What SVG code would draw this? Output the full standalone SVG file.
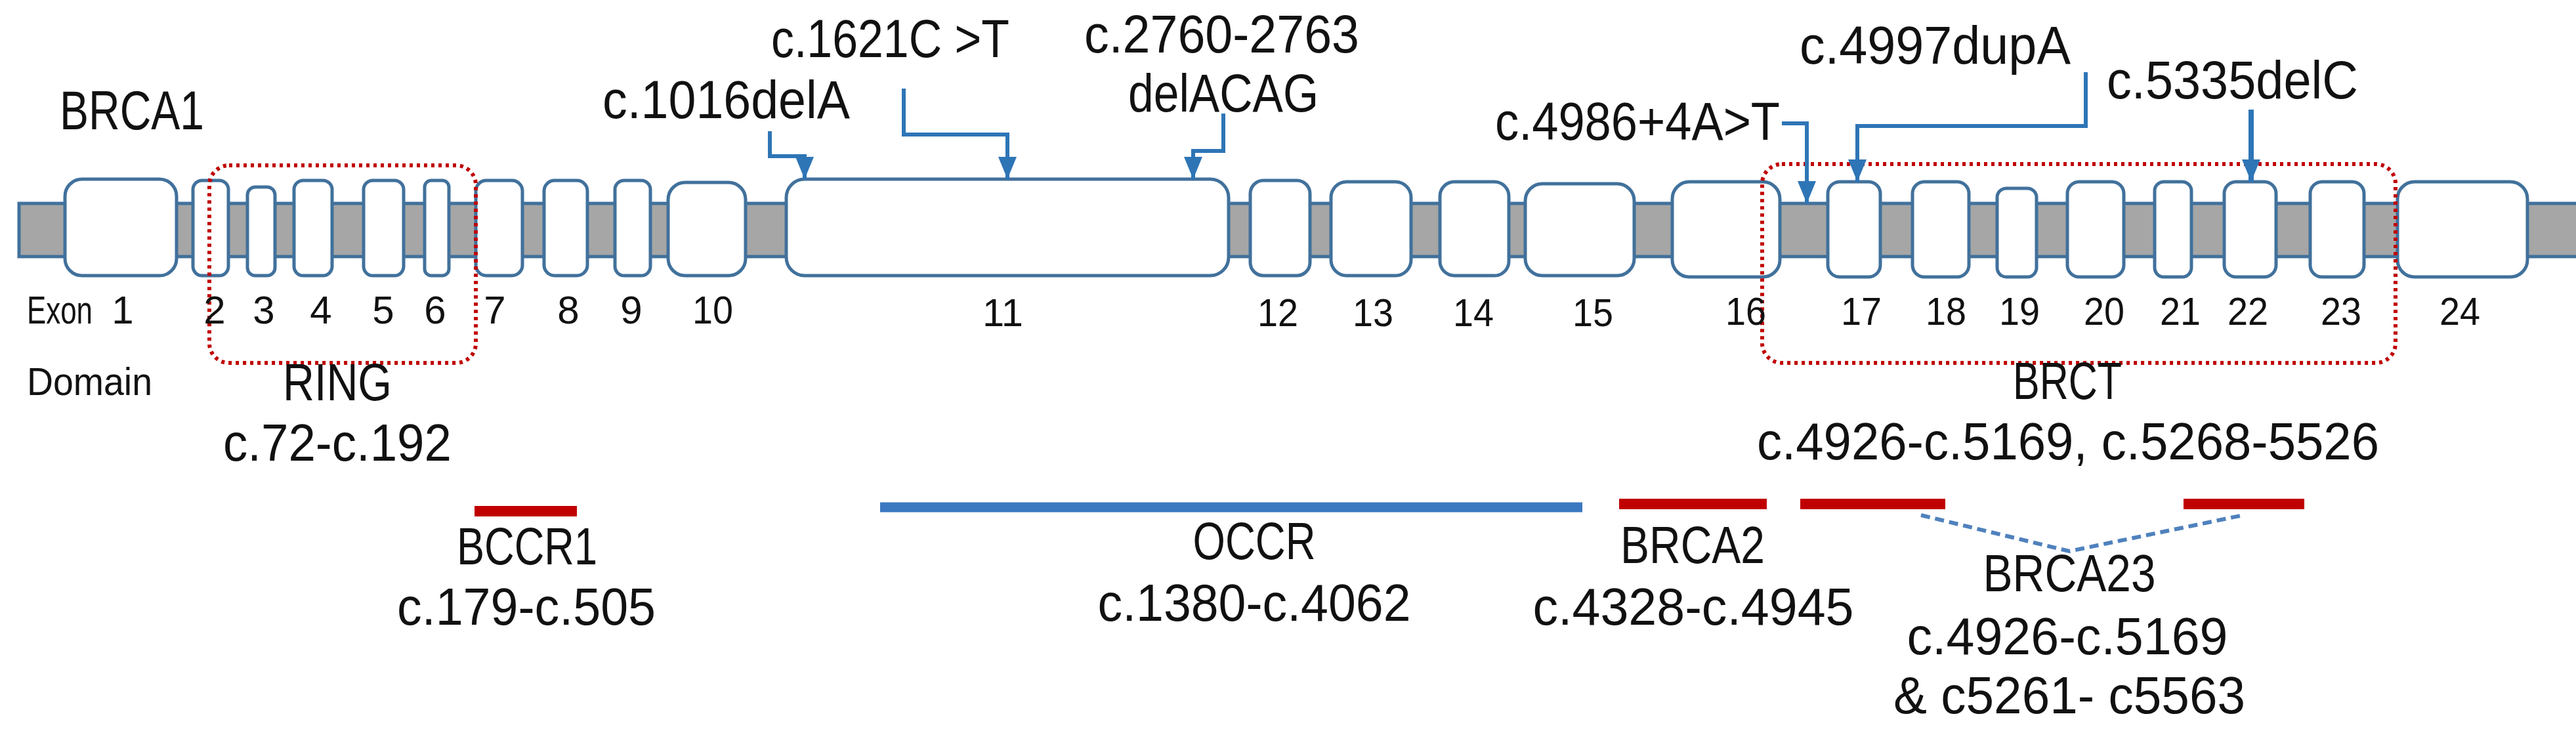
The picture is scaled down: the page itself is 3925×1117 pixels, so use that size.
<svg xmlns="http://www.w3.org/2000/svg" width="3925" height="1117" viewBox="0 0 3925 1117">
<style>
text{font-family:"Liberation Sans",Arial,sans-serif;fill:#111}
.mut{font-size:82px}
.ex{font-size:60px;text-anchor:middle}
.dom{font-size:80px;text-anchor:middle}
.exon{fill:#fff;stroke:#41719c;stroke-width:5}
.band{fill:#a6a6a6;stroke:#41719c;stroke-width:5}
.box{fill:none;stroke:#c00000;stroke-width:6;stroke-dasharray:5 6}
.arr{fill:none;stroke:#2e75b6;stroke-width:6;marker-end:url(#ah)}
.red{stroke:#c00000;stroke-width:16}
</style>
<defs>
<marker id="ah" markerUnits="userSpaceOnUse" markerWidth="34" markerHeight="34" refX="34" refY="14" orient="auto" viewBox="0 0 34 28">
<path d="M0,0 L34,14 L0,28 Z" fill="#2e75b6"/>
</marker>
</defs>
<rect width="3925" height="1117" fill="#fff"/>
<g id="gene">
<rect class="band" x="29" y="310" width="3900" height="81"/>
<rect class="exon" x="99" y="273" width="170" height="147" rx="26"/>
<rect class="exon" x="294" y="275" width="54" height="145" rx="14"/>
<rect class="exon" x="377" y="285" width="42" height="135" rx="12"/>
<rect class="exon" x="448" y="275" width="58" height="145" rx="14"/>
<rect class="exon" x="554" y="275" width="61" height="145" rx="14"/>
<rect class="exon" x="647" y="275" width="37" height="145" rx="10"/>
<rect class="exon" x="725" y="275" width="71" height="145" rx="16"/>
<rect class="exon" x="829" y="275" width="66" height="145" rx="16"/>
<rect class="exon" x="937" y="275" width="54" height="145" rx="14"/>
<rect class="exon" x="1018" y="278" width="118" height="142" rx="26"/>
<rect class="exon" x="1198" y="273" width="674" height="147" rx="28"/>
<rect class="exon" x="1905" y="275" width="91" height="145" rx="20"/>
<rect class="exon" x="2028" y="277" width="122" height="143" rx="24"/>
<rect class="exon" x="2194" y="277" width="105" height="143" rx="22"/>
<rect class="exon" x="2324" y="280" width="166" height="140" rx="26"/>
<rect class="exon" x="2548" y="277" width="164" height="145" rx="26"/>
<rect class="exon" x="2785" y="277" width="80" height="145" rx="18"/>
<rect class="exon" x="2914" y="277" width="86" height="145" rx="18"/>
<rect class="exon" x="3043" y="287" width="60" height="135" rx="14"/>
<rect class="exon" x="3150" y="277" width="86" height="145" rx="18"/>
<rect class="exon" x="3283" y="277" width="56" height="145" rx="14"/>
<rect class="exon" x="3389" y="277" width="79" height="145" rx="18"/>
<rect class="exon" x="3520" y="277" width="82" height="145" rx="18"/>
<rect class="exon" x="3653" y="277" width="198" height="145" rx="26"/>
</g>
<g id="domains">
<rect class="box" x="319" y="252" width="406" height="301" rx="30"/>
<rect class="box" x="2685" y="250" width="965" height="303" rx="30"/>
</g>
<g id="labels">
<text x="91" y="197" font-size="84" textLength="220" lengthAdjust="spacingAndGlyphs">BRCA1</text>
<text x="41" y="493" font-size="60" textLength="100" lengthAdjust="spacingAndGlyphs">Exon</text>
<text x="41" y="602" font-size="60" textLength="191" lengthAdjust="spacingAndGlyphs">Domain</text>
<text class="ex" x="187" y="493">1</text><text class="ex" x="327" y="493">2</text><text class="ex" x="402" y="493">3</text><text class="ex" x="489" y="493">4</text><text class="ex" x="584" y="493">5</text><text class="ex" x="663" y="493">6</text><text class="ex" x="754" y="493">7</text><text class="ex" x="866" y="493">8</text><text class="ex" x="962" y="493">9</text><text class="ex" x="1086" y="493" textLength="62" lengthAdjust="spacingAndGlyphs">10</text><text class="ex" x="1528" y="497" textLength="62" lengthAdjust="spacingAndGlyphs">11</text><text class="ex" x="1947" y="497" textLength="62" lengthAdjust="spacingAndGlyphs">12</text><text class="ex" x="2092" y="497" textLength="62" lengthAdjust="spacingAndGlyphs">13</text><text class="ex" x="2245" y="497" textLength="62" lengthAdjust="spacingAndGlyphs">14</text><text class="ex" x="2427" y="497" textLength="62" lengthAdjust="spacingAndGlyphs">15</text><text class="ex" x="2660" y="495" textLength="62" lengthAdjust="spacingAndGlyphs">16</text><text class="ex" x="2836" y="495" textLength="62" lengthAdjust="spacingAndGlyphs">17</text><text class="ex" x="2965" y="495" textLength="62" lengthAdjust="spacingAndGlyphs">18</text><text class="ex" x="3077" y="495" textLength="62" lengthAdjust="spacingAndGlyphs">19</text><text class="ex" x="3206" y="495" textLength="62" lengthAdjust="spacingAndGlyphs">20</text><text class="ex" x="3322" y="495" textLength="62" lengthAdjust="spacingAndGlyphs">21</text><text class="ex" x="3425" y="495" textLength="62" lengthAdjust="spacingAndGlyphs">22</text><text class="ex" x="3567" y="495" textLength="62" lengthAdjust="spacingAndGlyphs">23</text><text class="ex" x="3748" y="495" textLength="62" lengthAdjust="spacingAndGlyphs">24</text>
<text class="mut" x="918" y="180" textLength="377" lengthAdjust="spacingAndGlyphs">c.1016delA</text>
<text class="mut" x="1175" y="87" textLength="363" lengthAdjust="spacingAndGlyphs">c.1621C &gt;T</text>
<text class="mut" x="1652" y="80" textLength="419" lengthAdjust="spacingAndGlyphs">c.2760-2763</text>
<text class="mut" x="1719" y="170" textLength="290" lengthAdjust="spacingAndGlyphs">delACAG</text>
<text class="mut" x="2278" y="213" textLength="434" lengthAdjust="spacingAndGlyphs">c.4986+4A&gt;T</text>
<text class="mut" x="2742" y="97" textLength="413" lengthAdjust="spacingAndGlyphs">c.4997dupA</text>
<text class="mut" x="3210" y="150" textLength="383" lengthAdjust="spacingAndGlyphs">c.5335delC</text>
<text class="dom" x="514" y="610" textLength="166" lengthAdjust="spacingAndGlyphs">RING</text>
<text class="dom" x="514" y="702" textLength="348" lengthAdjust="spacingAndGlyphs">c.72-c.192</text>
<text class="dom" x="3150" y="608" textLength="166" lengthAdjust="spacingAndGlyphs">BRCT</text>
<text class="dom" x="3151" y="700" textLength="948" lengthAdjust="spacingAndGlyphs">c.4926-c.5169, c.5268-5526</text>
<text class="dom" x="803" y="860" textLength="214" lengthAdjust="spacingAndGlyphs">BCCR1</text>
<text class="dom" x="802" y="952" textLength="394" lengthAdjust="spacingAndGlyphs">c.179-c.505</text>
<text class="dom" x="1911" y="852" textLength="187" lengthAdjust="spacingAndGlyphs">OCCR</text>
<text class="dom" x="1911" y="946" textLength="477" lengthAdjust="spacingAndGlyphs">c.1380-c.4062</text>
<text class="dom" x="2579" y="858" textLength="220" lengthAdjust="spacingAndGlyphs">BRCA2</text>
<text class="dom" x="2580" y="952" textLength="489" lengthAdjust="spacingAndGlyphs">c.4328-c.4945</text>
<text class="dom" x="3153" y="901" textLength="263" lengthAdjust="spacingAndGlyphs">BRCA23</text>
<text class="dom" x="3150" y="997" textLength="489" lengthAdjust="spacingAndGlyphs">c.4926-c.5169</text>
<text class="dom" x="3153" y="1087" textLength="536" lengthAdjust="spacingAndGlyphs">&amp; c5261- c5563</text>
</g>
<g id="connectors">
<path class="arr" d="M1173,200 V238 H1226 V273"/>
<path class="arr" d="M1377,135 V205 H1535 V273"/>
<path class="arr" d="M1864,173 V230 H1818 V273"/>
<path class="arr" d="M2715,188 H2753 V310"/>
<path class="arr" d="M3178,110 V192 H2830 V277"/>
<path class="arr" d="M3430,167 V277" style="stroke-width:8"/>
<line class="red" x1="723" y1="779" x2="879" y2="779"/>
<line x1="1341" y1="773" x2="2411" y2="773" stroke="#3a78c0" stroke-width="15"/>
<line class="red" x1="2467" y1="768" x2="2692" y2="768"/>
<line class="red" x1="2743" y1="768" x2="2964" y2="768"/>
<line class="red" x1="3327" y1="768" x2="3511" y2="768"/>
<path d="M2927,785 L3153,840 L3418,785" fill="none" stroke="#4f81bd" stroke-width="6" stroke-dasharray="14 8"/>
</g>
</svg>
